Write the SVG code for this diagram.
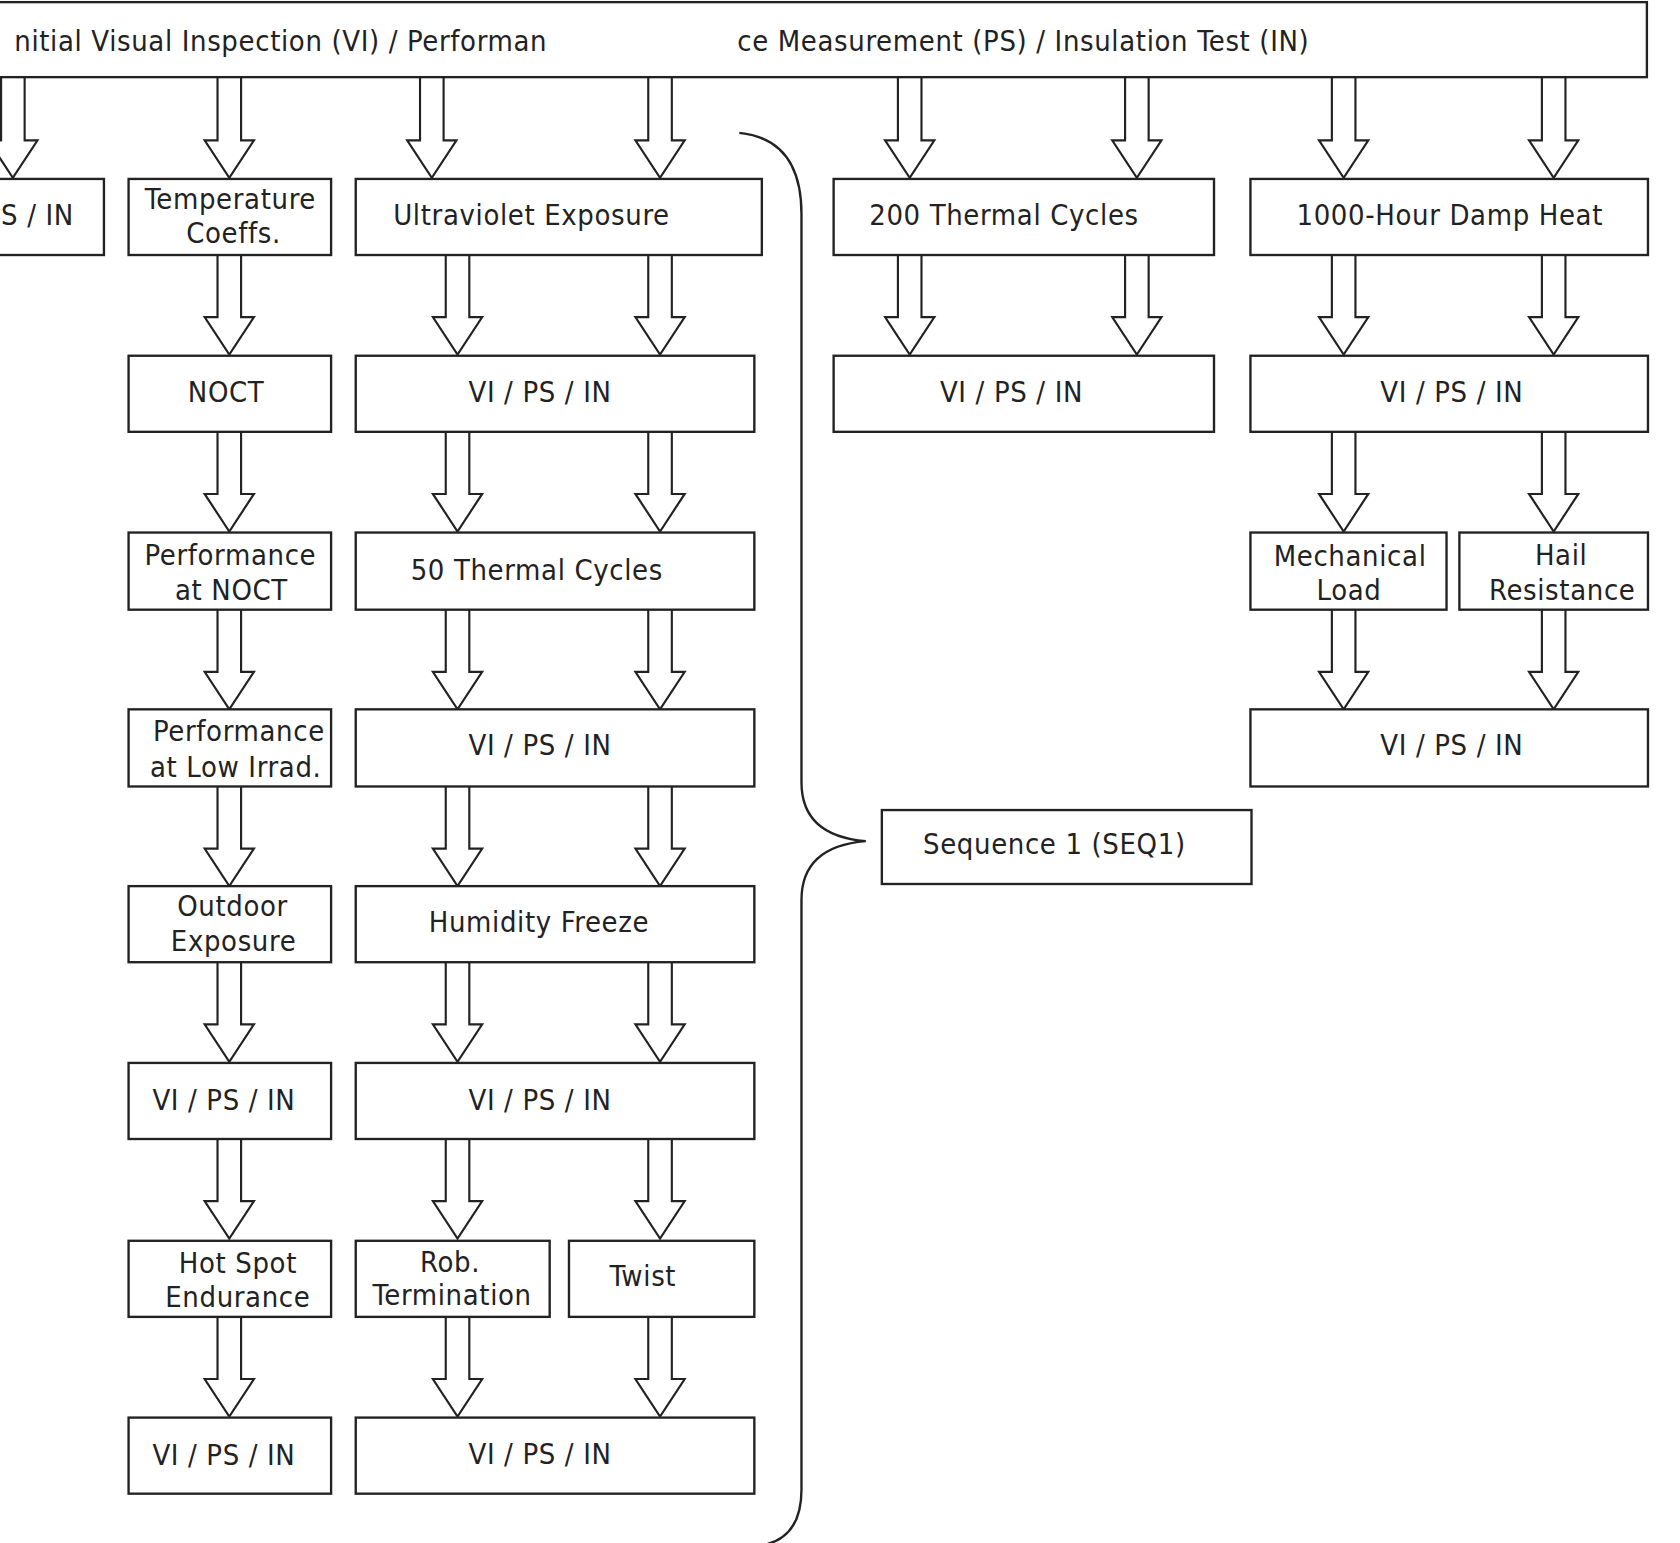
<svg xmlns="http://www.w3.org/2000/svg" width="1680" height="1543" viewBox="0 0 1680 1543">
<defs><style>
.b{fill:#fff;stroke:#222;stroke-width:2.2}
.a{fill:#fff;stroke:#222;stroke-width:2}
text{font-family:"DejaVu Sans Condensed","Liberation Sans",sans-serif;font-size:27px;fill:#222;text-anchor:middle;letter-spacing:0.6px}
</style></defs>
<rect width="1680" height="1543" fill="#fff"/>
<g transform="scale(1.0715,1.0715)">
<g id="connectors">
<path class="a" d="M1,72 V131 H-11 L12,166 L35,131 H23 V72"/>
<path class="a" d="M203,72 V131 H191 L214,166 L237,131 H225 V72"/>
<path class="a" d="M392,72 V131 H380 L403,166 L426,131 H414 V72"/>
<path class="a" d="M605,72 V131 H593 L616,166 L639,131 H627 V72"/>
<path class="a" d="M838,72 V131 H826 L849,166 L872,131 H860 V72"/>
<path class="a" d="M1050,72 V131 H1038 L1061,166 L1084,131 H1072 V72"/>
<path class="a" d="M1243,72 V131 H1231 L1254,166 L1277,131 H1265 V72"/>
<path class="a" d="M1439,72 V131 H1427 L1450,166 L1473,131 H1461 V72"/>
<g id="r2">
<path class="a" d="M203,238 V296 H191 L214,331 L237,296 H225 V238"/>
<path class="a" d="M416,238 V296 H404 L427,331 L450,296 H438 V238"/>
<path class="a" d="M605,238 V296 H593 L616,331 L639,296 H627 V238"/>
<path class="a" d="M838,238 V296 H826 L849,331 L872,296 H860 V238"/>
<path class="a" d="M1050,238 V296 H1038 L1061,331 L1084,296 H1072 V238"/>
<path class="a" d="M1243,238 V296 H1231 L1254,331 L1277,296 H1265 V238"/>
<path class="a" d="M1439,238 V296 H1427 L1450,331 L1473,296 H1461 V238"/>
</g>
<g transform="translate(0,165)">
<path class="a" d="M203,238 V296 H191 L214,331 L237,296 H225 V238"/>
<path class="a" d="M416,238 V296 H404 L427,331 L450,296 H438 V238"/>
<path class="a" d="M605,238 V296 H593 L616,331 L639,296 H627 V238"/>
<path class="a" d="M1243,238 V296 H1231 L1254,331 L1277,296 H1265 V238"/>
<path class="a" d="M1439,238 V296 H1427 L1450,331 L1473,296 H1461 V238"/>
</g>
<g transform="translate(0,331)">
<path class="a" d="M203,238 V296 H191 L214,331 L237,296 H225 V238"/>
<path class="a" d="M416,238 V296 H404 L427,331 L450,296 H438 V238"/>
<path class="a" d="M605,238 V296 H593 L616,331 L639,296 H627 V238"/>
<path class="a" d="M1243,238 V296 H1231 L1254,331 L1277,296 H1265 V238"/>
<path class="a" d="M1439,238 V296 H1427 L1450,331 L1473,296 H1461 V238"/>
</g>
<g transform="translate(0,496)">
<path class="a" d="M203,238 V296 H191 L214,331 L237,296 H225 V238"/>
<path class="a" d="M416,238 V296 H404 L427,331 L450,296 H438 V238"/>
<path class="a" d="M605,238 V296 H593 L616,331 L639,296 H627 V238"/>
</g>
<g transform="translate(0,660)">
<path class="a" d="M203,238 V296 H191 L214,331 L237,296 H225 V238"/>
<path class="a" d="M416,238 V296 H404 L427,331 L450,296 H438 V238"/>
<path class="a" d="M605,238 V296 H593 L616,331 L639,296 H627 V238"/>
</g>
<g transform="translate(0,825)">
<path class="a" d="M203,238 V296 H191 L214,331 L237,296 H225 V238"/>
<path class="a" d="M416,238 V296 H404 L427,331 L450,296 H438 V238"/>
<path class="a" d="M605,238 V296 H593 L616,331 L639,296 H627 V238"/>
</g>
<g transform="translate(0,991)">
<path class="a" d="M203,238 V296 H191 L214,331 L237,296 H225 V238"/>
<path class="a" d="M416,238 V296 H404 L427,331 L450,296 H438 V238"/>
<path class="a" d="M605,238 V296 H593 L616,331 L639,296 H627 V238"/>
</g>
<path id="brace" fill="none" stroke="#222" stroke-width="2.2" d="M690,124 Q748,130 748,200 V730 Q748,780 808,785 Q748,790 748,840 V1390 Q748,1435 712,1442"/>
</g>
<g id="top"><rect class="b" x="-10" y="2" width="1547" height="70"/><text x="262" y="48">nitial Visual Inspection (VI) / Performan</text><text x="955" y="48">ce Measurement (PS) / Insulation Test (IN)</text></g>
<g id="n0"><rect class="b" x="-10" y="167" width="107" height="71"/><text x="35" y="210">S / IN</text></g>
<g id="n1"><rect class="b" x="120" y="167" width="189" height="71"/><text x="215" y="195">Temperature</text><text x="218" y="227">Coeffs.</text></g>
<g id="n2"><rect class="b" x="332" y="167" width="379" height="71"/><text x="496" y="210">Ultraviolet Exposure</text></g>
<g id="n3"><rect class="b" x="778" y="167" width="355" height="71"/><text x="937" y="210">200 Thermal Cycles</text></g>
<g id="n4"><rect class="b" x="1167" y="167" width="371" height="71"/><text x="1353" y="210">1000-Hour Damp Heat</text></g>
<g id="n5"><rect class="b" x="120" y="332" width="189" height="71"/><text x="211" y="375">NOCT</text></g>
<g id="n6"><rect class="b" x="332" y="332" width="372" height="71"/><text x="504" y="375">VI / PS / IN</text></g>
<g id="n7"><rect class="b" x="778" y="332" width="355" height="71"/><text x="944" y="375">VI / PS / IN</text></g>
<g id="n8"><rect class="b" x="1167" y="332" width="371" height="71"/><text x="1355" y="375">VI / PS / IN</text></g>
<g id="n9"><rect class="b" x="120" y="497" width="189" height="72"/><text x="215" y="527">Performance</text><text x="216" y="560">at NOCT</text></g>
<g id="n10"><rect class="b" x="332" y="497" width="372" height="72"/><text x="501" y="541">50 Thermal Cycles</text></g>
<g id="n11"><rect class="b" x="1167" y="497" width="183" height="72"/><text x="1260" y="528">Mechanical</text><text x="1259" y="560">Load</text></g>
<g id="n12"><rect class="b" x="1362" y="497" width="176" height="72"/><text x="1457" y="527">Hail</text><text x="1458" y="560">Resistance</text></g>
<g id="n13"><rect class="b" x="120" y="662" width="189" height="72"/><text x="223" y="692">Performance</text><text x="220" y="725">at Low Irrad.</text></g>
<g id="n14"><rect class="b" x="332" y="662" width="372" height="72"/><text x="504" y="705">VI / PS / IN</text></g>
<g id="n15"><rect class="b" x="1167" y="662" width="371" height="72"/><text x="1355" y="705">VI / PS / IN</text></g>
<g id="seq"><rect class="b" x="823" y="756" width="345" height="69"/><text x="984" y="797">Sequence 1 (SEQ1)</text></g>
<g id="n16"><rect class="b" x="120" y="827" width="189" height="71"/><text x="217" y="855">Outdoor</text><text x="218" y="888">Exposure</text></g>
<g id="n17"><rect class="b" x="332" y="827" width="372" height="71"/><text x="503" y="870">Humidity Freeze</text></g>
<g id="n18"><rect class="b" x="120" y="992" width="189" height="71"/><text x="209" y="1036">VI / PS / IN</text></g>
<g id="n19"><rect class="b" x="332" y="992" width="372" height="71"/><text x="504" y="1036">VI / PS / IN</text></g>
<g id="n20"><rect class="b" x="120" y="1158" width="189" height="71"/><text x="222" y="1188">Hot Spot</text><text x="222" y="1220">Endurance</text></g>
<g id="n21"><rect class="b" x="332" y="1158" width="181" height="71"/><text x="420" y="1187">Rob.</text><text x="422" y="1218">Termination</text></g>
<g id="n22"><rect class="b" x="531" y="1158" width="173" height="71"/><text x="600" y="1200">Twist</text></g>
<g id="n23"><rect class="b" x="120" y="1323" width="189" height="71"/><text x="209" y="1367">VI / PS / IN</text></g>
<g id="n24"><rect class="b" x="332" y="1323" width="372" height="71"/><text x="504" y="1366">VI / PS / IN</text></g>
</g>
</svg>
